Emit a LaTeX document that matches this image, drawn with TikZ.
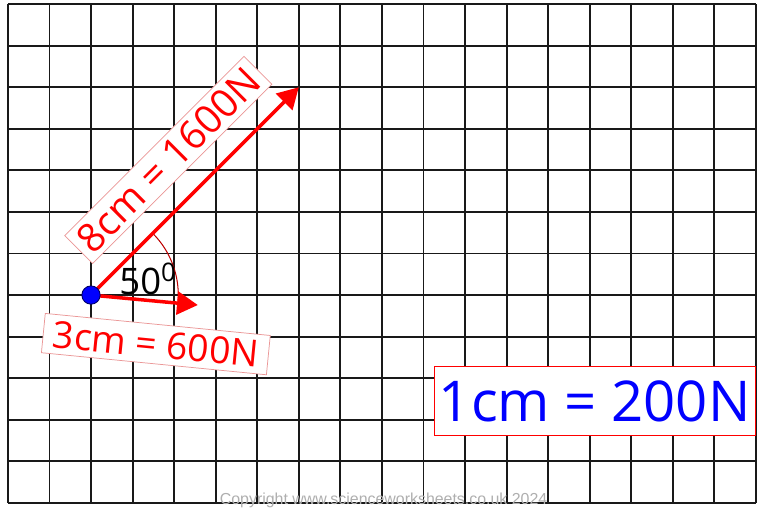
\documentclass[tikz,border=0pt]{standalone}
\usepackage{fontspec}
\setmainfont{Open Sans}
\newfontfamily\copyfont{Liberation Sans}
\usetikzlibrary{arrows.meta}
\definecolor{arcred}{RGB}{190,0,0}
\definecolor{boxpink}{RGB}{235,150,150}
\definecolor{copygray}{RGB}{175,175,175}
\tikzset{
  gridline/.style={line width=1.3pt, black!90},
  force/.style={red, line width=2.4pt, -{Triangle[length=0.5cm,width=0.55cm]}},
  forcelabel/.style={draw=boxpink, line width=0.5pt, fill=white, text=red, inner sep=0pt, minimum height=0.95cm},
}
\begin{document}
\begin{tikzpicture}
\useasboundingbox (-0.19,-0.15) rectangle (18.29,12.1);
\fill[white] (-0.19,-0.15) rectangle (18.29,12.1);
% grid
\draw[gridline] (0,0) grid (18,12);
% copyright
\node[anchor=base, text=copygray, font=\copyfont\fontsize{10.9}{12}\selectfont, inner sep=0pt] (copy) at (9.04,-0.03) {Copyright www.scienceworksheets.co.uk 2024};
% labels
\node[forcelabel, rotate=45, minimum width=6.1cm, font=\fontsize{27}{30}\selectfont] (lbig) at (3.86,8.25) {8cm = 1600N};
\node[forcelabel, rotate=-5.6, minimum width=5.44cm, font=\fontsize{25.5}{28}\selectfont] (lsmall) at (3.56,3.82) {3cm = 600N};
\node[draw=red, line width=0.7pt, fill=white, text=blue, inner sep=0pt, minimum width=7.73cm, minimum height=1.66cm, font=\fontsize{38.5}{42}\selectfont] (scale) at (14.12,2.44) {1cm = 200N};
% angle
\coordinate (o) at (2,5);
\coordinate (A) at (7,10);
\coordinate (B) at (4.57,4.76);
\draw[arcred, line width=0.7pt] (o) ++(45:2.1) arc[start angle=45, end angle=-4, radius=2.1];
\node[font=\fontsize{25}{28}\selectfont, inner sep=0pt] (ang) at (3.37,5.38) {50\textsuperscript{0}};
% forces
\draw[force] (o) -- (A);
\draw[force] (o) -- (B);
\node[circle, fill=blue, draw=blue!40!black, line width=0.6pt, minimum size=0.44cm, inner sep=0pt] (dot) at (o) {};
\end{tikzpicture}
\end{document}
